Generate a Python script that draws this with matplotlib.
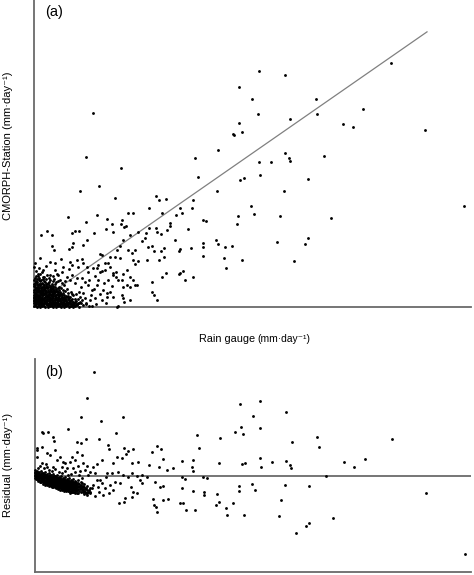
import matplotlib
matplotlib.use("Agg")
import matplotlib.pyplot as plt
import numpy as np

plt.rcParams['font.family'] = ['Liberation Sans', 'DejaVu Sans']

# ---------------- Panel (a): CMORPH vs station (arbitrary units, no ticks) ----------------
scatter_a = [
    (225,236),(251,232),(205,220),(218,208),(282,208),(329,198),(224,193),(283,193),(256,188),
    (205,184),(309,183),(319,180),(357,244),(391,177),(200,172),(208,175),(251,154),(255,149),
    (256,146),(290,151),(225,145),(237,145),(226,132),(206,127),(210,129),(274,128),(250,116),
    (217,101),(220,93),(204,91),(246,91),(203,83),(297,89),(430,101),(198,61),(243,65),(271,63),
    (274,69),(208,47),(260,46),
    (199,173),(184,157),(161,149),(164,130),(183,116),(159,107),(158,99),(169,87),(172,86),
    (142,92),(154,78),(169,64),(169,60),(182,67),(184,63),(191,60),(157,59),(169,51),(190,49),
    (192,39),(146,58),(145,56),(145,33),(149,36),(159,30),(141,67),
    (59,194),(52,150),(87,139),(46,116),(65,121),(81,109),(34,90),(63,92),(73,88),(94,94),
    (99,94),(88,87),(122,111),(125,107),(132,108),(115,99),(128,94),(7,72),(13,76),(18,72),
    (18,61),(20,57),(38,74),(41,76),(45,76),(35,58),(6,49),(52,85),(60,74),(53,67),(49,62),
    (66,53),(72,78),(78,83),(79,75),(87,83),(90,80),(92,81),(96,72),(89,67),(104,75),(112,74),
    (108,66),(111,69),(115,79),(114,60),(122,79),(123,75),(127,73),(136,81),(133,77),(136,84),
    (146,99),(148,94),(83,57),(94,57),(101,57),(86,49),(98,54),(118,61),(120,56),(127,56),
    (130,59),(130,50),(125,47),(113,47),(104,46),(101,43),(76,50),(71,44),(68,36),(63,39),
    (81,50),(82,30),(79,34),(74,27),(89,33),(88,27),(93,22),(99,27),(101,22),(118,25),(118,15),
    (120,12),(123,7),(128,30),(132,34),(146,34),(151,27),(89,9),(90,5),(84,1),(79,10),(73,14),
    (39,64),(38,60),(68,52),(86,61),(99,47),
    (1,44),(0,40),(9,37),(16,45),(21,44),(21,37),(28,35),(29,40),(36,45),(38,42),(43,47),
    (44,40),(48,48),(49,44),(53,40),(54,35),(59,39),(64,42),(66,35),(71,37),(74,44),(76,40),
    (79,32),(82,35),(84,27),(93,37),(96,30),(103,22),(96,20),(89,20),(88,12),(96,7),(83,0),
    (68,7),(73,10),(76,15),(69,17),(63,22),(58,17),(54,22),(51,25),(48,29),(43,29),(38,32),
    (33,30),(24,32),(16,32),(9,30),(4,31),(3,25),(61,9),(56,7),(49,14),(46,10),(44,4),
    (52,4),(57,12),(62,3),(66,13),(60,18),(55,27),(47,20),(41,24),(36,27),(31,26),(45,15),
    (51,9),(58,1),(64,27),(70,24),(72,4),(78,21),(61,31),(35,38),(27,48),(12,41),(5,39),
]

cluster_a = [
    (0,1),(3,0),(5,2),(8,1),(11,0),(13,2),(16,1),(19,0),(21,2),(24,1),(27,0),(29,2),(32,1),
    (35,0),(38,2),(41,1),(45,0),(49,2),(55,1),
    (1,4),(4,3),(7,4),(9,3),(12,4),(15,3),(17,4),(20,3),(23,4),(26,3),(28,4),(31,3),(34,4),
    (37,3),(40,4),(43,3),(47,4),(52,3),
    (0,6),(2,5),(5,6),(8,6),(10,5),(13,6),(16,5),(18,6),(21,5),(24,6),(27,5),(30,6),(33,5),
    (36,6),(39,5),(42,6),(46,5),
    (1,8),(4,8),(6,7),(9,8),(12,7),(14,8),(17,8),(20,7),(22,8),(25,8),(28,7),(31,8),(34,8),
    (37,7),(41,8),(48,7),
    (0,10),(3,10),(6,11),(8,10),(11,10),(14,11),(16,10),(19,11),(22,10),(25,11),(28,10),
    (32,11),(36,10),(39,12),
    (1,13),(4,12),(7,13),(10,13),(13,12),(15,13),(18,13),(21,12),(24,13),(27,13),(30,12),
    (34,14),(42,13),
    (0,15),(3,15),(5,16),(8,15),(11,16),(14,15),(17,16),(20,15),(23,16),(26,15),(31,16),(37,15),
    (1,18),(4,18),(7,17),(10,18),(13,19),(16,18),(19,17),(22,18),(27,19),(33,18),
    (0,21),(3,20),(6,21),(9,20),(12,21),(15,22),(19,21),(25,20),(30,22),
    (1,24),(5,23),(8,24),(11,25),(14,24),(18,23),(22,25),(28,24),
    (0,27),(3,28),(7,27),(12,28),(16,27),(20,28),(26,27),
    (2,31),(6,33),(10,30),(13,32),(19,31),(23,33),(2,36),(8,35),
    (2,1),(6,0),(9,2),(14,0),(17,2),(22,0),(25,2),(30,0),(33,2),(36,1),(39,0),(43,2),
    (2,3),(5,4),(10,4),(14,3),(18,3),(22,4),(25,3),(29,3),(33,3),(36,4),(39,3),(45,4),
    (1,6),(4,6),(7,5),(11,6),(15,6),(19,5),(23,5),(26,6),(29,5),(32,6),(35,5),(41,5),
    (2,8),(5,9),(8,8),(11,9),(15,8),(18,9),(21,9),(24,8),(27,9),(30,8),(35,9),(44,8),
    (1,11),(5,10),(9,12),(12,11),(15,10),(18,11),(21,11),(24,10),(27,12),(30,10),(34,11),
    (2,13),(6,14),(9,14),(12,14),(16,13),(20,14),(23,13),(26,14),(29,14),(38,13),
    (2,16),(6,16),(9,17),(12,16),(16,16),(19,16),(22,16),(25,17),(29,17),
    (2,19),(5,19),(8,20),(11,19),(14,20),(18,19),(21,20),(24,19),
    (1,22),(4,22),(7,23),(10,22),(13,23),(17,21),(21,23),
    (2,25),(6,26),(10,26),(15,25),(19,26),(24,26),
    (1,29),(5,29),(9,28),(15,29),(4,33),
    # third layer: the solid black corner
    (1,2),(4,1),(7,2),(10,1),(12,3),(15,2),(18,1),(20,2),(23,2),(26,1),(28,2),(31,2),(34,2),
    (37,1),(40,2),(42,3),
    (0,4),(3,5),(6,4),(8,4),(11,5),(13,4),(16,4),(19,4),(21,4),(24,4),(27,4),(30,4),(32,4),
    (35,4),(38,5),
    (0,7),(3,7),(5,8),(8,7),(10,7),(13,8),(16,7),(18,7),(21,7),(23,7),(26,7),(29,8),(32,7),
    (35,7),(38,8),
    (0,9),(2,10),(4,10),(7,9),(10,9),(13,10),(16,9),(19,9),(22,9),(25,9),(28,9),(31,9),
    (33,10),
    (0,12),(3,12),(5,12),(8,12),(11,13),(14,12),(17,12),(19,13),(22,12),(25,12),(28,12),
    (1,14),(4,15),(6,15),(9,15),(12,15),(15,15),(18,15),(21,15),(24,15),
    (0,17),(3,17),(5,17),(8,17),(11,17),(14,17),(17,18),(20,17),
    (1,20),(4,20),(7,19),(10,20),(13,20),(16,20),(19,19),
    (0,23),(3,23),(6,23),(9,23),(12,23),(2,26),(5,27),
]

gauge_a = [p[0] for p in scatter_a + cluster_a]
cmorph_a = [p[1] for p in scatter_a + cluster_a]

fit_slope = 0.695
fit_intercept = 2.0
fit_range = [0, 393]

# ---------------- Panel (b): residuals ----------------
scatter_b = [
    (205,72),(225,75),(251,64),(218,60),(200,44),(206,49),(208,42),(225,48),(257,34),(282,39),
    (284,29),(357,37),(207,12),(210,13),(225,18),(226,9),(237,14),(251,15),(255,11),(256,8),
    (309,14),(319,9),(330,17),(291,0),(204,-10),(204,-15),(217,-8),(220,-14),(250,-9),(274,-10),
    (391,-17),(198,-27),(246,-24),(209,-39),(244,-40),(298,-42),(261,-57),(271,-50),(274,-47),
    (430,-78),
    (59,104),(52,78),(46,59),(66,55),(88,59),(33,47),(81,43),(64,37),(51,37),(42,34),(46,33),
    (8,43),(13,44),(18,39),(19,35),(162,41),(185,38),(164,28),(73,31),(74,27),(89,28),(91,22),
    (93,25),(98,27),(82,19),(87,18),(78,13),(67,16),(62,12),(58,9),(97,13),(103,14),(117,24),
    (122,30),(126,27),(128,17),(114,11),(124,9),(132,6),(138,8),(147,15),(158,16),(157,9),
    (158,5),(184,13),(147,-1),(150,-3),(168,-1),(172,-2),(147,-12),(158,-15),(169,-16),
    (169,-19),(182,-18),(118,-23),(119,-29),(121,-31),(122,-36),(128,-10),(128,-24),(133,-23),
    (145,-27),(148,-27),(151,-34),(160,-34),(181,-29),(184,-26),(191,-32),(192,-39),(84,-27),
    (89,-26),(90,-22),(97,-21),(98,-16),(102,-17),(96,-11),(105,-4),(107,-7),(120,-6),(125,-11),
    (74,-17),(68,-19),(64,-16),(55,-16),(52,-17),(78,-14),(80,-6),(85,-7),(67,-7),(65,-4),
    (71,-1),(72,3),(77,3),(83,4),(88,1),(93,-1),(97,3),(102,0),(107,1),(112,-1),
    (2,28),(2,19),(7,29),(12,23),(15,21),(20,26),(22,16),(25,19),(30,13),(35,14),(37,19),
    (40,16),(43,10),(48,13),(50,6),(55,4),(53,1),(60,3),(42,24),(47,21),(32,8),(27,9),(18,9),
    (12,9),(7,13),(2,26),(7,44),
    (58,-9),(62,-4),(60,-20),(57,-12),(63,-11),(70,-12),(75,-9),(45,5),(38,8),(28,14),(52,10),
]

band_b = [
    (0,6),(0,3),(0,0),(0,-2),(2,5),(2,2),(2,-1),(2,-3),(4,4),(4,1),(4,-2),(4,-4),
    (6,5),(6,2),(6,-1),(6,-4),(6,-6),(8,3),(8,0),(8,-3),(8,-6),(10,4),(10,1),(10,-2),(10,-5),
    (10,-7),(12,2),(12,-1),(12,-4),(12,-7),(14,3),(14,0),(14,-3),(14,-6),(14,-8),
    (16,1),(16,-2),(16,-5),(16,-8),(16,-10),(18,2),(18,-1),(18,-4),(18,-7),(18,-9),
    (20,0),(20,-3),(20,-6),(20,-9),(20,-11),(22,1),(22,-2),(22,-5),(22,-8),(22,-11),
    (24,-1),(24,-4),(24,-7),(24,-10),(24,-12),(26,0),(26,-3),(26,-6),(26,-9),(26,-12),
    (28,-2),(28,-5),(28,-8),(28,-11),(28,-13),(30,-1),(30,-4),(30,-7),(30,-10),(30,-14),
    (32,-3),(32,-6),(32,-9),(32,-12),(32,-14),(34,-2),(34,-5),(34,-8),(34,-11),(34,-15),
    (36,-4),(36,-7),(36,-10),(36,-13),(36,-16),(38,-3),(38,-6),(38,-9),(38,-12),(38,-16),
    (40,-5),(40,-8),(40,-11),(40,-14),(40,-17),(43,-4),(43,-7),(43,-10),(43,-13),(43,-17),
    (46,-6),(46,-9),(46,-12),(46,-16),(49,-8),(49,-11),(49,-15),(49,-18),(52,-10),(52,-14),
    (52,-19),(55,-12),(55,-17),
    (3,8),(5,10),(9,8),(11,12),(14,6),(17,5),(20,7),(24,4),(27,3),(30,5),(33,1),(36,2),
    (40,4),(44,1),(47,-2),
    (1,4),(1,1),(1,-2),(3,3),(3,0),(3,-3),(5,2),(5,-1),(5,-4),(7,3),(7,0),(7,-3),(7,-5),
    (9,2),(9,-1),(9,-4),(9,-6),(11,1),(11,-2),(11,-5),(11,-8),(13,0),(13,-3),(13,-5),(13,-8),
    (15,1),(15,-4),(15,-7),(15,-9),(17,-1),(17,-3),(17,-6),(17,-9),(19,0),(19,-5),(19,-8),
    (19,-10),(21,-1),(21,-4),(21,-7),(21,-10),(23,-2),(23,-6),(23,-9),(23,-12),(25,-2),(25,-5),
    (25,-8),(25,-11),(27,-4),(27,-7),(27,-10),(27,-13),(29,-3),(29,-6),(29,-9),(29,-12),
    (31,-5),(31,-8),(31,-11),(31,-13),(33,-4),(33,-7),(33,-10),(33,-13),(35,-6),(35,-9),
    (35,-12),(35,-15),(37,-5),(37,-8),(37,-11),(37,-14),(39,-7),(39,-10),(39,-13),(41,-6),
    (41,-9),(41,-12),(41,-15),(44,-8),(44,-11),(44,-15),(47,-7),(47,-11),(47,-14),(50,-13),
    (50,-16),(53,-16),
    # third layer for the solid band
    (0,4),(0,1),(1,-3),(2,0),(3,-5),(4,-1),(5,-6),(6,0),(7,-2),(8,-5),(8,-8),(9,1),(10,-1),
    (10,-9),(11,-4),(12,-6),(12,-9),(13,-2),(14,-5),(14,-10),(15,-1),(16,-4),(16,-7),(17,-11),
    (18,-3),(18,-6),(18,-11),(19,-2),(20,-5),(20,-8),(21,-12),(22,-4),(22,-7),(22,-10),
    (23,-13),(24,-3),(24,-6),(24,-9),(25,-14),(26,-5),(26,-8),(26,-11),(27,-14),(28,-4),
    (28,-7),(28,-10),(29,-15),(30,-6),(30,-9),(30,-12),(31,-15),(32,-5),(32,-8),(32,-11),
    (33,-15),(34,-7),(34,-10),(34,-13),(35,-17),(36,-6),(36,-9),(36,-12),(37,-16),(38,-8),
    (38,-11),(38,-14),(39,-16),(40,-7),(40,-10),(40,-13),(42,-8),(42,-11),(42,-14),(42,-17),
    (45,-10),(45,-13),(48,-10),(48,-13),(48,-16),(51,-12),(51,-17),(54,-14),
]

gauge_b = [p[0] for p in scatter_b + band_b]
resid_b = [p[1] for p in scatter_b + band_b]

spine_col = '#6a6a6a'
W, H = 474, 575
fig = plt.figure(figsize=(W / 100, H / 100), dpi=100)

def style(ax):
    for s in ('top', 'right'):
        ax.spines[s].set_visible(False)
    for s in ('left', 'bottom'):
        ax.spines[s].set_color(spine_col)
        ax.spines[s].set_linewidth(1.3)
    ax.set_xticks([])
    ax.set_yticks([])
    ax.patch.set_alpha(0)

dot = 4.2

ax1 = fig.add_axes([34 / W, (H - 307) / H, 437 / W, 307 / H])
ax1.set_xlim(0, 437)
ax1.set_ylim(0, 307)
style(ax1)
ax1.scatter(gauge_a, cmorph_a, s=dot, c='black', linewidths=0, clip_on=False, zorder=3)
fx = np.array(fit_range, dtype=float)
ax1.plot(fx, fit_intercept + fit_slope * fx, color='#808080', lw=0.9, zorder=2)
ax1.text(11 / 437, 1 - 12 / 307, '(a)', transform=ax1.transAxes, fontsize=10.5,
         ha='left', va='center')

ax2 = fig.add_axes([35 / W, (H - 572) / H, 436 / W, 213 / H])
ax2.set_xlim(0, 436)
ax2.set_ylim(-96, 117)
style(ax2)
ax2.axhline(0, color=spine_col, lw=1.3, zorder=2)
ax2.scatter(gauge_b, resid_b, s=dot, c='black', linewidths=0, clip_on=False, zorder=3)
ax2.text(10 / 436, 1 - 13 / 213, '(b)', transform=ax2.transAxes, fontsize=10.5,
         ha='left', va='center')

# Axis labels
fig.text(255 / W, 1 - 339 / H, 'Rain gauge', fontsize=7.8, ha='right', va='center')
fig.text(257 / W, 1 - 339 / H, '(mm·day⁻¹)', fontsize=7.4, ha='left', va='center')
fig.text(8 / W, 1 - 146 / H, 'CMORPH-Station (mm·day⁻¹)', fontsize=8.0, rotation=90,
         ha='center', va='center')
fig.text(8 / W, 1 - 465 / H, 'Residual (mm·day⁻¹)', fontsize=8.0, rotation=90,
         ha='center', va='center')

fig.savefig('out.png', dpi=100)
